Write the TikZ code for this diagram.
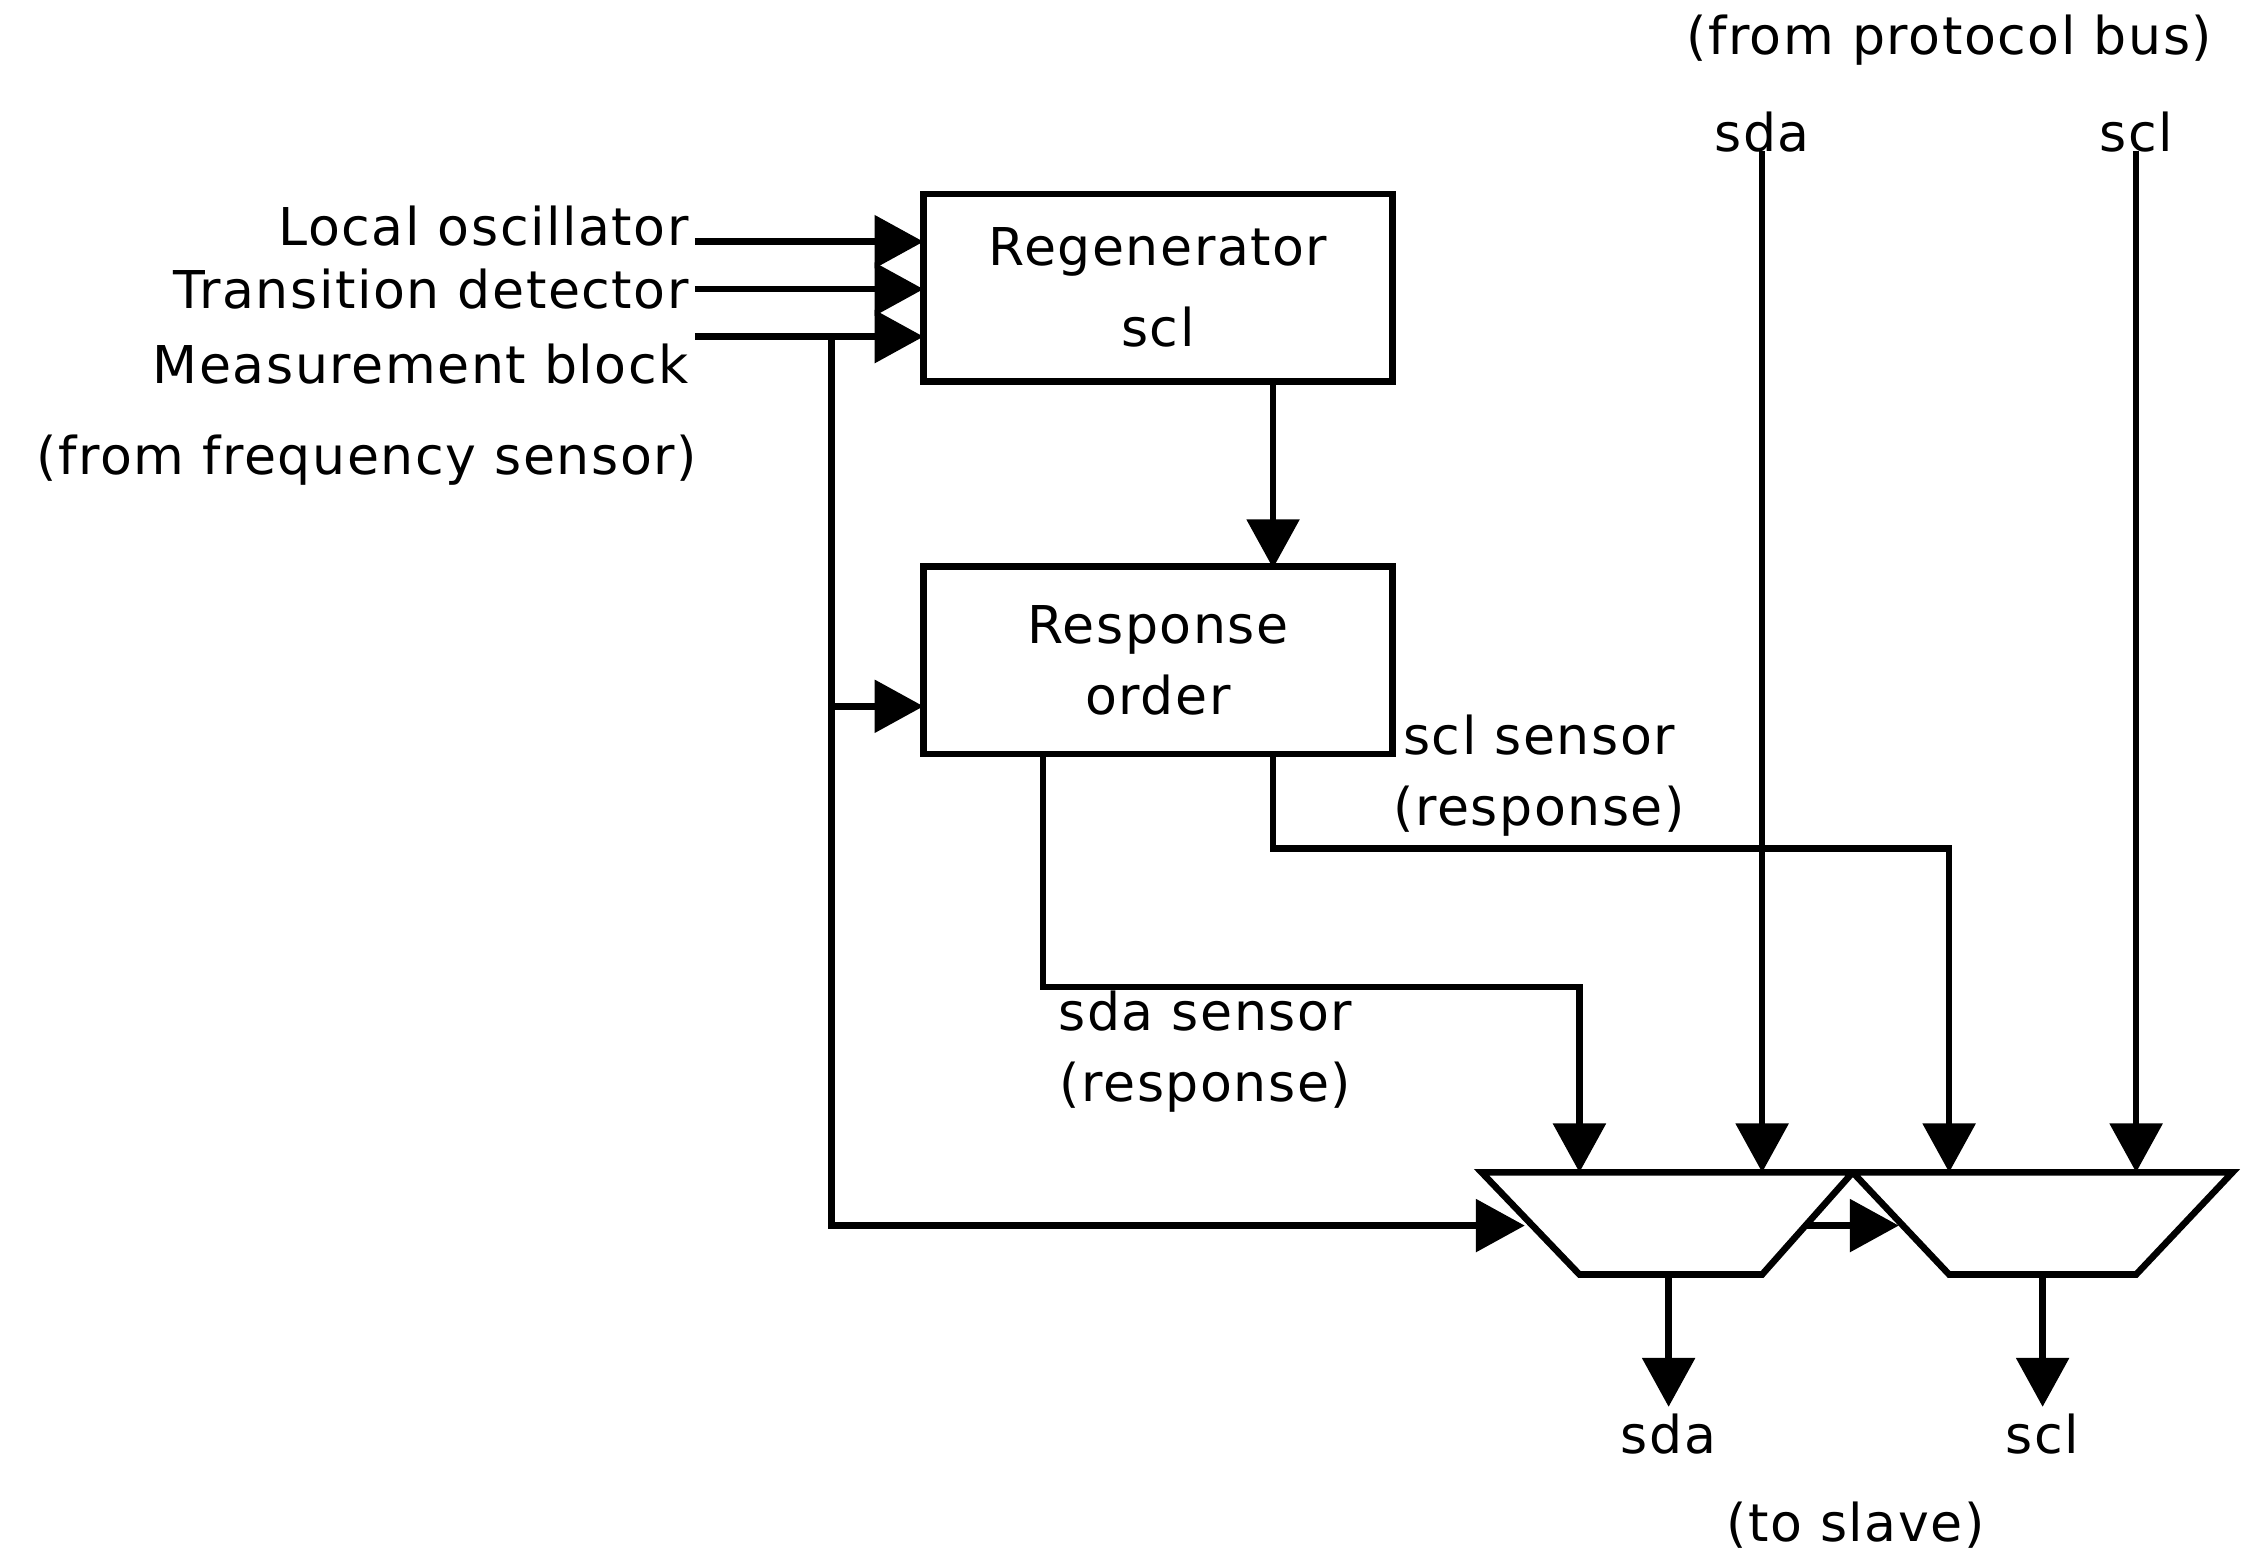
\documentclass[tikz,border=0pt]{standalone}
\usepackage{fontspec}
\setmainfont{DejaVu Sans}[LetterSpace=3]
\usetikzlibrary{arrows.meta, positioning}

\begin{document}
\begin{tikzpicture}[x=0.01cm, y=-0.01cm,
    every node/.style={font=\fontsize{10.3}{12}\selectfont, inner sep=1pt},
    blk/.style={draw, line width=1.3pt, minimum width=3.26cm, minimum height=1.3cm, align=center, inner sep=0pt},
    wire/.style={line width=1.3pt},
    sig/.style={line width=1.3pt, -{Triangle[length=3.4mm, width=3.6mm]}}]
    \useasboundingbox (0,0) rectangle (1560,1087);
    % Blocks
    \node[blk] (regen) at (805,200) {Regenerator\\[4pt]scl};
    \node[blk] (resp) at (805,459) {Response\\[2pt]order};

    % Multiplexers
    \draw[wire] (1030,815) -- (1288,815) -- (1225,886) -- (1098,886) -- cycle;
    \draw[wire] (1288,815) -- (1552,815) -- (1485,886) -- (1355,886) -- cycle;
    \coordinate (mxa) at (1060,852);
    \coordinate (mxb) at (1320,852);

    % Inputs from frequency sensor
    \node[anchor=east] (lo) at (483,157) {Local oscillator};
    \node[anchor=east] (td) at (483,201) {Transition detector};
    \node[anchor=east] (mb) at (483,253) {Measurement block};
    \node (fs) at (255,320) {(from frequency sensor)};
    \draw[sig] (483,168) -- (642,168);
    \draw[sig] (483,201) -- (642,201);
    \draw[sig] (483,234) -- (642,234);
    \draw[sig] (578,234) -- (578,852) -- (mxa);
    \draw[sig] (578,491) -- (642,491);

    % Internal connections
    \draw[sig] (885,266) -- (885,395);
    \draw[sig] (725,524) -- (725,686) -- (1098,686) -- (1098,815);
    \draw[sig] (885,524) -- (885,590) -- (1355,590) -- (1355,815);
    \draw[sig] (1255,852) -- (mxb);
    \node[align=center] (scls) at (1070,539) {scl sensor\\[2pt](response)};
    \node[align=center] (sdas) at (838,731) {sda sensor\\[2pt](response)};

    % Protocol bus
    \node (pb) at (1355,28) {(from protocol bus)};
    \node (sdain) at (1225,92) {sda};
    \node (sclin) at (1485,92) {scl};
    \draw[sig] (1225,105) -- (1225,815);
    \draw[sig] (1485,105) -- (1485,815);

    % Outputs
    \draw[sig] (1160,886) -- (1160,978);
    \draw[sig] (1420,886) -- (1420,978);
    \node (sdaout) at (1160,997) {sda};
    \node (sclout) at (1420,997) {scl};
    \node (sl) at (1290,1060) {(to slave)};
\end{tikzpicture}
\end{document}
